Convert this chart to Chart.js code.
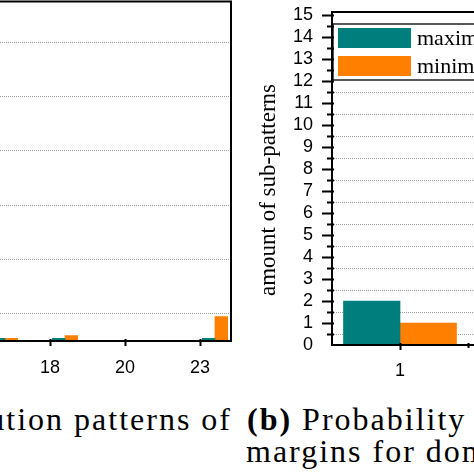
<!DOCTYPE html>
<html>
<head>
<meta charset="utf-8">
<script src="https://cdn.jsdelivr.net/npm/chart.js@4.4.1/dist/chart.umd.min.js"></script>
<style>
  html, body { margin: 0; padding: 0; background: #fff; }
  body { width: 474px; height: 474px; overflow: hidden; position: relative; }
  #chartA { position: absolute; left: -180px; top: 0; }
  #chartB { position: absolute; left: 240px; top: 0; }
  .cap { position: absolute; font-family: "Liberation Serif", serif; font-size: 32px;
         line-height: 32px; letter-spacing: 2px; white-space: nowrap; color: #000; }
</style>
</head>
<body>
<canvas id="chartA" width="420" height="380"></canvas>
<canvas id="chartB" width="380" height="385"></canvas>
<div class="cap" style="right:242px; top:403px;">Distribution patterns of</div>
<div class="cap" style="left:247px; top:403px;"><b>(b)</b> Probability distribution of</div>
<div class="cap" style="left:246px; top:435px;">margins for domains</div>
<script>
// panel (a): only its right end is in the picture
const aTickLabels = ['18', '20', '23'];
const aTickSlots = [0, 5, 10];
const aBarSlots = [-3, 1, 11];
const aMaximum = [1, 1, 1];
const aMinimum = [1, 2, 9];

// panel (b)
const bCategories = [1];
const bMaximum = [2];
const bMinimum = [1];

const seriesNames = ['maximum', 'minimum'];
const teal = '#007d7d';
const orange = '#ff8000';
const dotted = '#9a9a9a';

Chart.defaults.font.family = '"Liberation Sans", Arial, sans-serif';
Chart.defaults.color = '#000';

// origin-like frame plus major/minor tick marks
const frameAndTicks = {
    id: 'frameAndTicks',
    afterDatasetsDraw(chart, args, o) {
        const ctx = chart.ctx;
        const a = chart.chartArea;
        const sx = chart.scales.x, sy = chart.scales.y;
        ctx.save();
        ctx.strokeStyle = '#000';
        ctx.lineWidth = o.width;
        ctx.beginPath();
        sy.ticks.forEach(t => {
            if (t.value <= sy.min) return;
            const y = Math.round(sy.getPixelForValue(t.value)) + 0.5;
            const len = (t.value % o.yMajor === 0) ? o.yLong : o.yShort;
            ctx.moveTo(a.left - len, y);
            ctx.lineTo(a.left + 2, y);
        });
        sx.ticks.forEach(t => {
            if (t.value <= sx.min || t.value >= sx.max) return;
            const x = Math.round(sx.getPixelForValue(t.value)) + 0.5;
            const len = (t.value % o.xMajor === 0) ? o.xLong : o.xShort;
            ctx.moveTo(x, a.bottom + len);
            ctx.lineTo(x, a.bottom - 2);
        });
        ctx.stroke();
        ctx.strokeRect(a.left, a.top, a.right - a.left, a.bottom - a.top);
        ctx.restore();
    }
};

// legend box drawn inside the plot, top left
const boxedLegend = {
    id: 'boxedLegend',
    afterDatasetsDraw(chart) {
        const ctx = chart.ctx;
        const a = chart.chartArea;
        const x0 = a.left + 1, y0 = a.top + 12;
        ctx.save();
        ctx.fillStyle = '#fff';
        ctx.fillRect(x0, y0, 400, 56);
        ctx.strokeStyle = '#222';
        ctx.lineWidth = 1.5;
        ctx.strokeRect(x0, y0, 400, 56);
        ctx.font = '22px "Liberation Serif"';
        chart.data.datasets.forEach((ds, i) => {
            const y = y0 + 4 + i * 28;
            ctx.fillStyle = ds.backgroundColor;
            ctx.fillRect(x0 + 5, y, 73, 20);
            ctx.fillStyle = '#000';
            ctx.fillText(ds.label, x0 + 84, y + 17);
        });
        ctx.restore();
    }
};

function halfGrid(step) {
    return ctx => (Math.abs(ctx.tick.value % step - step / 2) < 1e-6) ? dotted : 'rgba(0,0,0,0)';
}

// keep the plot box exactly where the scales are told to sit
function fixX(h) {
    return s => { s.height = h; s.paddingLeft = 0; s.paddingRight = 0; };
}
function fixY(w) {
    return s => { s.width = w; s.paddingTop = 0; s.paddingBottom = 0; };
}

new Chart(document.getElementById('chartA'), {
    type: 'bar',
    data: {
        datasets: [{
            label: seriesNames[0],
            data: aBarSlots.map((x, i) => ({x: x, y: aMaximum[i]})),
            backgroundColor: teal
        }, {
            label: seriesNames[1],
            data: aBarSlots.map((x, i) => ({x: x, y: aMinimum[i]})),
            backgroundColor: orange
        }]
    },
    options: {
        responsive: false,
        animation: false,
        barThickness: 12.7,
        layout: { padding: { top: 1.5, right: 9, left: 0, bottom: 0 } },
        plugins: { legend: { display: false }, tooltip: { enabled: false },
                   frameAndTicks: { width: 2, yMajor: 20, yLong: 9, yShort: 5, xMajor: 5, xLong: 5, xShort: 3 } },
        scales: {
            x: {
                type: 'linear',
                offset: false,
                min: -10,
                max: 12.07,
                afterBuildTicks: s => { s.ticks = aTickSlots.map(v => ({value: v})); },
                afterFit: fixX(39),
                grid: { display: false, offset: false },
                border: { display: false },
                ticks: { font: { size: 18 }, padding: 8, maxRotation: 0,
                         callback: v => aTickLabels[aTickSlots.indexOf(v)] || '' }
            },
            y: {
                min: 0,
                max: 125,
                afterFit: fixY(80),
                grid: { color: halfGrid(20), lineWidth: 1, drawTicks: false },
                border: { display: false, dash: [1, 1] },
                ticks: { stepSize: 10, includeBounds: false, font: { size: 18 }, padding: 12,
                         callback: v => (v % 20 === 0) ? v : '' }
            }
        }
    },
    plugins: [frameAndTicks]
});

new Chart(document.getElementById('chartB'), {
    type: 'bar',
    data: {
        datasets: [{
            label: seriesNames[0],
            data: bCategories.map((x, i) => ({x: x, y: bMaximum[i]})),
            backgroundColor: teal
        }, {
            label: seriesNames[1],
            data: bCategories.map((x, i) => ({x: x, y: bMinimum[i]})),
            backgroundColor: orange
        }]
    },
    options: {
        responsive: false,
        animation: false,
        barThickness: 56.5,
        layout: { padding: { top: 12, right: 16, left: 0, bottom: 0 } },
        plugins: { legend: { display: false }, tooltip: { enabled: false },
                   frameAndTicks: { width: 2, yMajor: 1, yLong: 10, yShort: 5, xMajor: 1, xLong: 5, xShort: 3 } },
        scales: {
            x: {
                type: 'linear',
                offset: false,
                min: 0.5,
                max: 2.5,
                afterFit: fixX(40),
                grid: { display: false, offset: false },
                border: { display: false },
                ticks: { stepSize: 0.5, includeBounds: false, font: { size: 18 }, padding: 7, maxRotation: 0,
                         callback: v => Number.isInteger(v) ? v : '' }
            },
            y: {
                min: 0,
                max: 15.15,
                afterFit: fixY(92),
                grid: { color: halfGrid(1), lineWidth: 1, drawTicks: false },
                border: { display: false, dash: [1, 1] },
                // trailing no-break spaces push the rotated title a little lower, as in the original
                title: { display: true, text: 'amount of sub-patterns\u00a0\u00a0\u00a0\u00a0',
                         font: { family: '"Liberation Serif", serif', size: 23 },
                         padding: { top: 15, bottom: 0 } },
                ticks: { stepSize: 0.5, includeBounds: false, font: { size: 18 }, padding: 19, autoSkip: false,
                         callback: v => Number.isInteger(v) ? v : '' }
            }
        }
    },
    plugins: [boxedLegend, frameAndTicks]
});
</script>
</body>
</html>
